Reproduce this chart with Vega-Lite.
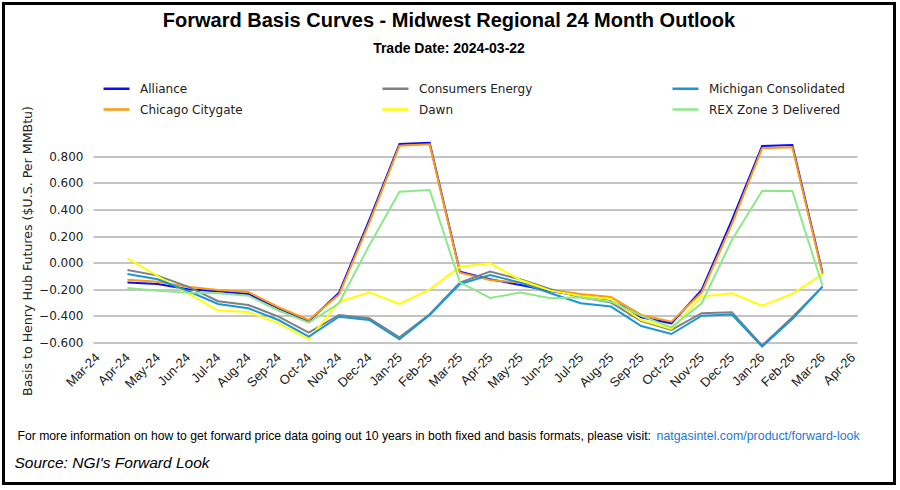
{
  "$schema": "https://vega.github.io/schema/vega-lite/v6.json",
  "width": 891,
  "height": 480,
  "autosize": {"type": "none"},
  "padding": {"left": 3.5, "top": 3.5, "right": 5.5, "bottom": 6.5},
  "background": "white",
  "title": {
    "text": "Forward Basis Curves - Midwest Regional 24 Month Outlook",
    "subtitle": "Trade Date: 2024-03-22",
    "anchor": "middle",
    "frame": "group",
    "offset": -52,
    "font": "Liberation Sans",
    "fontSize": 20,
    "fontWeight": "bold",
    "color": "black",
    "subtitleFont": "Liberation Sans",
    "subtitleFontSize": 14,
    "subtitleFontWeight": "bold",
    "subtitleColor": "black",
    "subtitlePadding": 11
  },
  "data": {"values": [
    {"month": "Apr-24", "series": "Alliance", "value": -0.148},
    {"month": "May-24", "series": "Alliance", "value": -0.160},
    {"month": "Jun-24", "series": "Alliance", "value": -0.200},
    {"month": "Jul-24", "series": "Alliance", "value": -0.215},
    {"month": "Aug-24", "series": "Alliance", "value": -0.235},
    {"month": "Sep-24", "series": "Alliance", "value": -0.343},
    {"month": "Oct-24", "series": "Alliance", "value": -0.440},
    {"month": "Nov-24", "series": "Alliance", "value": -0.225},
    {"month": "Dec-24", "series": "Alliance", "value": 0.320},
    {"month": "Jan-25", "series": "Alliance", "value": 0.893},
    {"month": "Feb-25", "series": "Alliance", "value": 0.902},
    {"month": "Mar-25", "series": "Alliance", "value": -0.067},
    {"month": "Apr-25", "series": "Alliance", "value": -0.125},
    {"month": "May-25", "series": "Alliance", "value": -0.167},
    {"month": "Jun-25", "series": "Alliance", "value": -0.213},
    {"month": "Jul-25", "series": "Alliance", "value": -0.250},
    {"month": "Aug-25", "series": "Alliance", "value": -0.278},
    {"month": "Sep-25", "series": "Alliance", "value": -0.410},
    {"month": "Oct-25", "series": "Alliance", "value": -0.456},
    {"month": "Nov-25", "series": "Alliance", "value": -0.205},
    {"month": "Dec-25", "series": "Alliance", "value": 0.320},
    {"month": "Jan-26", "series": "Alliance", "value": 0.877},
    {"month": "Feb-26", "series": "Alliance", "value": 0.885},
    {"month": "Mar-26", "series": "Alliance", "value": -0.075},

    {"month": "Apr-24", "series": "Chicago Citygate", "value": -0.128},
    {"month": "May-24", "series": "Chicago Citygate", "value": -0.143},
    {"month": "Jun-24", "series": "Chicago Citygate", "value": -0.180},
    {"month": "Jul-24", "series": "Chicago Citygate", "value": -0.205},
    {"month": "Aug-24", "series": "Chicago Citygate", "value": -0.220},
    {"month": "Sep-24", "series": "Chicago Citygate", "value": -0.335},
    {"month": "Oct-24", "series": "Chicago Citygate", "value": -0.431},
    {"month": "Nov-24", "series": "Chicago Citygate", "value": -0.240},
    {"month": "Dec-24", "series": "Chicago Citygate", "value": 0.300},
    {"month": "Jan-25", "series": "Chicago Citygate", "value": 0.880},
    {"month": "Feb-25", "series": "Chicago Citygate", "value": 0.890},
    {"month": "Mar-25", "series": "Chicago Citygate", "value": -0.075},
    {"month": "Apr-25", "series": "Chicago Citygate", "value": -0.130},
    {"month": "May-25", "series": "Chicago Citygate", "value": -0.150},
    {"month": "Jun-25", "series": "Chicago Citygate", "value": -0.205},
    {"month": "Jul-25", "series": "Chicago Citygate", "value": -0.235},
    {"month": "Aug-25", "series": "Chicago Citygate", "value": -0.258},
    {"month": "Sep-25", "series": "Chicago Citygate", "value": -0.393},
    {"month": "Oct-25", "series": "Chicago Citygate", "value": -0.443},
    {"month": "Nov-25", "series": "Chicago Citygate", "value": -0.223},
    {"month": "Dec-25", "series": "Chicago Citygate", "value": 0.290},
    {"month": "Jan-26", "series": "Chicago Citygate", "value": 0.860},
    {"month": "Feb-26", "series": "Chicago Citygate", "value": 0.868},
    {"month": "Mar-26", "series": "Chicago Citygate", "value": -0.085},

    {"month": "Apr-24", "series": "Consumers Energy", "value": -0.055},
    {"month": "May-24", "series": "Consumers Energy", "value": -0.097},
    {"month": "Jun-24", "series": "Consumers Energy", "value": -0.180},
    {"month": "Jul-24", "series": "Consumers Energy", "value": -0.290},
    {"month": "Aug-24", "series": "Consumers Energy", "value": -0.318},
    {"month": "Sep-24", "series": "Consumers Energy", "value": -0.405},
    {"month": "Oct-24", "series": "Consumers Energy", "value": -0.526},
    {"month": "Nov-24", "series": "Consumers Energy", "value": -0.393},
    {"month": "Dec-24", "series": "Consumers Energy", "value": -0.418},
    {"month": "Jan-25", "series": "Consumers Energy", "value": -0.561},
    {"month": "Feb-25", "series": "Consumers Energy", "value": -0.388},
    {"month": "Mar-25", "series": "Consumers Energy", "value": -0.150},
    {"month": "Apr-25", "series": "Consumers Energy", "value": -0.067},
    {"month": "May-25", "series": "Consumers Energy", "value": -0.125},
    {"month": "Jun-25", "series": "Consumers Energy", "value": -0.200},
    {"month": "Jul-25", "series": "Consumers Energy", "value": -0.260},
    {"month": "Aug-25", "series": "Consumers Energy", "value": -0.300},
    {"month": "Sep-25", "series": "Consumers Energy", "value": -0.438},
    {"month": "Oct-25", "series": "Consumers Energy", "value": -0.506},
    {"month": "Nov-25", "series": "Consumers Energy", "value": -0.380},
    {"month": "Dec-25", "series": "Consumers Energy", "value": -0.372},
    {"month": "Jan-26", "series": "Consumers Energy", "value": -0.622},
    {"month": "Feb-26", "series": "Consumers Energy", "value": -0.410},
    {"month": "Mar-26", "series": "Consumers Energy", "value": -0.180},

    {"month": "Apr-24", "series": "Dawn", "value": 0.033},
    {"month": "May-24", "series": "Dawn", "value": -0.100},
    {"month": "Jun-24", "series": "Dawn", "value": -0.230},
    {"month": "Jul-24", "series": "Dawn", "value": -0.360},
    {"month": "Aug-24", "series": "Dawn", "value": -0.370},
    {"month": "Sep-24", "series": "Dawn", "value": -0.456},
    {"month": "Oct-24", "series": "Dawn", "value": -0.576},
    {"month": "Nov-24", "series": "Dawn", "value": -0.295},
    {"month": "Dec-24", "series": "Dawn", "value": -0.223},
    {"month": "Jan-25", "series": "Dawn", "value": -0.310},
    {"month": "Feb-25", "series": "Dawn", "value": -0.200},
    {"month": "Mar-25", "series": "Dawn", "value": -0.030},
    {"month": "Apr-25", "series": "Dawn", "value": -0.005},
    {"month": "May-25", "series": "Dawn", "value": -0.130},
    {"month": "Jun-25", "series": "Dawn", "value": -0.210},
    {"month": "Jul-25", "series": "Dawn", "value": -0.250},
    {"month": "Aug-25", "series": "Dawn", "value": -0.275},
    {"month": "Sep-25", "series": "Dawn", "value": -0.431},
    {"month": "Oct-25", "series": "Dawn", "value": -0.498},
    {"month": "Nov-25", "series": "Dawn", "value": -0.255},
    {"month": "Dec-25", "series": "Dawn", "value": -0.230},
    {"month": "Jan-26", "series": "Dawn", "value": -0.323},
    {"month": "Feb-26", "series": "Dawn", "value": -0.235},
    {"month": "Mar-26", "series": "Dawn", "value": -0.085},

    {"month": "Apr-24", "series": "Michigan Consolidated", "value": -0.085},
    {"month": "May-24", "series": "Michigan Consolidated", "value": -0.125},
    {"month": "Jun-24", "series": "Michigan Consolidated", "value": -0.213},
    {"month": "Jul-24", "series": "Michigan Consolidated", "value": -0.310},
    {"month": "Aug-24", "series": "Michigan Consolidated", "value": -0.343},
    {"month": "Sep-24", "series": "Michigan Consolidated", "value": -0.431},
    {"month": "Oct-24", "series": "Michigan Consolidated", "value": -0.556},
    {"month": "Nov-24", "series": "Michigan Consolidated", "value": -0.406},
    {"month": "Dec-24", "series": "Michigan Consolidated", "value": -0.431},
    {"month": "Jan-25", "series": "Michigan Consolidated", "value": -0.576},
    {"month": "Feb-25", "series": "Michigan Consolidated", "value": -0.393},
    {"month": "Mar-25", "series": "Michigan Consolidated", "value": -0.160},
    {"month": "Apr-25", "series": "Michigan Consolidated", "value": -0.093},
    {"month": "May-25", "series": "Michigan Consolidated", "value": -0.150},
    {"month": "Jun-25", "series": "Michigan Consolidated", "value": -0.230},
    {"month": "Jul-25", "series": "Michigan Consolidated", "value": -0.305},
    {"month": "Aug-25", "series": "Michigan Consolidated", "value": -0.330},
    {"month": "Sep-25", "series": "Michigan Consolidated", "value": -0.476},
    {"month": "Oct-25", "series": "Michigan Consolidated", "value": -0.536},
    {"month": "Nov-25", "series": "Michigan Consolidated", "value": -0.398},
    {"month": "Dec-25", "series": "Michigan Consolidated", "value": -0.390},
    {"month": "Jan-26", "series": "Michigan Consolidated", "value": -0.630},
    {"month": "Feb-26", "series": "Michigan Consolidated", "value": -0.423},
    {"month": "Mar-26", "series": "Michigan Consolidated", "value": -0.180},

    {"month": "Apr-24", "series": "REX Zone 3 Delivered", "value": -0.190},
    {"month": "May-24", "series": "REX Zone 3 Delivered", "value": -0.210},
    {"month": "Jun-24", "series": "REX Zone 3 Delivered", "value": -0.225},
    {"month": "Jul-24", "series": "REX Zone 3 Delivered", "value": -0.230},
    {"month": "Aug-24", "series": "REX Zone 3 Delivered", "value": -0.248},
    {"month": "Sep-24", "series": "REX Zone 3 Delivered", "value": -0.361},
    {"month": "Oct-24", "series": "REX Zone 3 Delivered", "value": -0.451},
    {"month": "Nov-24", "series": "REX Zone 3 Delivered", "value": -0.305},
    {"month": "Dec-24", "series": "REX Zone 3 Delivered", "value": 0.130},
    {"month": "Jan-25", "series": "REX Zone 3 Delivered", "value": 0.534},
    {"month": "Feb-25", "series": "REX Zone 3 Delivered", "value": 0.547},
    {"month": "Mar-25", "series": "REX Zone 3 Delivered", "value": -0.148},
    {"month": "Apr-25", "series": "REX Zone 3 Delivered", "value": -0.265},
    {"month": "May-25", "series": "REX Zone 3 Delivered", "value": -0.225},
    {"month": "Jun-25", "series": "REX Zone 3 Delivered", "value": -0.268},
    {"month": "Jul-25", "series": "REX Zone 3 Delivered", "value": -0.260},
    {"month": "Aug-25", "series": "REX Zone 3 Delivered", "value": -0.293},
    {"month": "Sep-25", "series": "REX Zone 3 Delivered", "value": -0.400},
    {"month": "Oct-25", "series": "REX Zone 3 Delivered", "value": -0.486},
    {"month": "Nov-25", "series": "REX Zone 3 Delivered", "value": -0.305},
    {"month": "Dec-25", "series": "REX Zone 3 Delivered", "value": 0.170},
    {"month": "Jan-26", "series": "REX Zone 3 Delivered", "value": 0.539},
    {"month": "Feb-26", "series": "REX Zone 3 Delivered", "value": 0.539},
    {"month": "Mar-26", "series": "REX Zone 3 Delivered", "value": -0.173}
  ]},
  "layer": [
    {
      "transform": [{"filter": "datum.series !== 'REX Zone 3 Delivered'"}],
      "mark": {"type": "line", "strokeWidth": 2},
      "encoding": {
        "x": {
          "field": "month", "type": "ordinal",
          "scale": {"type": "point", "domain": ["Mar-24","Apr-24","May-24","Jun-24","Jul-24","Aug-24","Sep-24","Oct-24","Nov-24","Dec-24","Jan-25","Feb-25","Mar-25","Apr-25","May-25","Jun-25","Jul-25","Aug-25","Sep-25","Oct-25","Nov-25","Dec-25","Jan-26","Feb-26","Mar-26","Apr-26"], "range": [89.5, 853.5], "padding": 0.14},
          "axis": {
            "orient": "bottom", "offset": -138.5,
            "labelAngle": -45, "labelAlign": "right", "labelBaseline": "middle",
            "labelFont": "Liberation Sans", "labelFontSize": 13, "labelColor": "#222",
            "labelPadding": 10, "labelOverlap": false,
            "ticks": false, "tickSize": 0, "domain": false, "grid": false,
            "title": "For more information on how to get forward price data going out 10 years in both fixed and basis formats, please visit:",
            "titleX": 13.5, "titleY": 90, "titleAlign": "left", "titleAnchor": "start", "titleBaseline": "middle",
            "titleFont": "Liberation Sans", "titleFontSize": 12.2, "titleFontWeight": "normal", "titleColor": "black"
          }
        },
        "y": {
          "field": "value", "type": "quantitative",
          "scale": {"domain": [-0.8, 1.0], "nice": false, "zero": false, "range": [365.6, 126.2]},
          "axis": {
            "orient": "left", "offset": -89.5,
            "values": [-0.6, -0.4, -0.2, 0, 0.2, 0.4, 0.6, 0.8], "format": ".3f",
            "grid": true, "gridColor": "#c4c4c4", "gridWidth": 1.8,
            "domain": false, "ticks": false, "tickSize": 0, "labelPadding": 10,
            "labelFont": "DejaVu Sans", "labelFontSize": 12, "labelColor": "#222",
            "title": "Basis to Henry Hub Futures ($U.S. Per MMBtu)",
            "titleX": -65.5, "titleY": 247, "titleAngle": -90, "titleAlign": "center", "titleBaseline": "middle",
            "titleFont": "DejaVu Sans", "titleFontSize": 12.6, "titleFontWeight": "normal", "titleColor": "#222"
          }
        },
        "color": {
          "field": "series", "type": "nominal",
          "scale": {
            "domain": ["Alliance", "Chicago Citygate", "Consumers Energy", "Dawn", "Michigan Consolidated", "REX Zone 3 Delivered"],
            "range": ["#0a0aff", "#fd9a10", "#808080", "#ffff00", "#1a96d6", "#8ee88a"]
          },
          "legend": {
            "orient": "none", "legendX": 98.5, "legendY": 70.5, "title": null,
            "columns": 3, "columnPadding": 134, "rowPadding": 0,
            "symbolType": "stroke", "symbolSize": 676, "symbolStrokeWidth": 2.5,
            "labelFont": "DejaVu Sans", "labelFontSize": 12, "labelColor": "#222", "labelOffset": 9
          }
        }
      }
    },
    {
      "transform": [{"filter": "datum.series === 'REX Zone 3 Delivered'"}],
      "mark": {"type": "line", "strokeWidth": 2},
      "encoding": {
        "x": {
          "field": "month", "type": "ordinal",
          "scale": {"type": "point", "domain": ["Mar-24","Apr-24","May-24","Jun-24","Jul-24","Aug-24","Sep-24","Oct-24","Nov-24","Dec-24","Jan-25","Feb-25","Mar-25","Apr-25","May-25","Jun-25","Jul-25","Aug-25","Sep-25","Oct-25","Nov-25","Dec-25","Jan-26","Feb-26","Mar-26","Apr-26"], "range": [89.5, 853.5], "padding": 0.14},
          "axis": {
            "orient": "top", "labels": false, "ticks": false, "domain": false, "grid": false,
            "title": "natgasintel.com/product/forward-look",
            "titleX": 652.5, "titleY": 431.5, "titleAlign": "left", "titleAnchor": "start", "titleBaseline": "middle",
            "titleFont": "Liberation Sans", "titleFontSize": 12.4, "titleFontWeight": "normal", "titleColor": "#1f78d1"
          }
        },
        "y": {
          "field": "value", "type": "quantitative",
          "scale": {"domain": [-0.8, 1.0], "nice": false, "zero": false, "range": [365.6, 126.2]},
          "axis": {
            "orient": "right", "labels": false, "ticks": false, "domain": false, "grid": false,
            "title": "Source: NGI's Forward Look",
            "titleX": -880.5, "titleY": 458.5, "titleAngle": 0, "titleAlign": "left", "titleBaseline": "middle",
            "titleFont": "Liberation Sans", "titleFontSize": 15.5, "titleFontStyle": "italic", "titleFontWeight": "normal", "titleColor": "black"
          }
        },
        "color": {"field": "series", "type": "nominal"}
      }
    }
  ],
  "resolve": {"axis": {"x": "independent", "y": "independent"}},
  "config": {"view": {"stroke": "black", "strokeWidth": 3}}
}
